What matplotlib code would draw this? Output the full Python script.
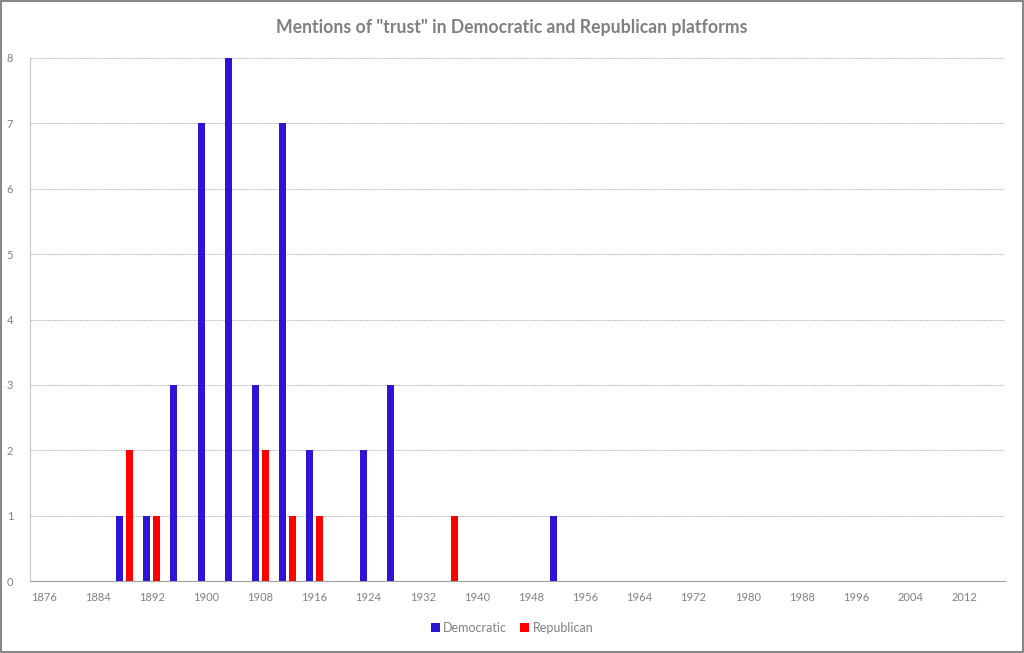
import matplotlib.pyplot as plt
import numpy as np

plt.rcParams['font.family'] = ['Lato', 'DejaVu Sans']

# election years, one category every 4 years
years = list(range(1876, 2017, 4))
dem_years = [1888, 1892, 1896, 1900, 1904, 1908, 1912, 1916, 1924, 1928, 1952]
dem_vals = [1, 1, 3, 7, 8, 3, 7, 2, 2, 3, 1]
rep_years = [1888, 1892, 1908, 1912, 1916, 1936]
rep_vals = [2, 1, 2, 1, 1, 1]

dem = np.zeros(len(years))
rep = np.zeros(len(years))
for y, v in zip(dem_years, dem_vals):
    dem[years.index(y)] = v
for y, v in zip(rep_years, rep_vals):
    rep[years.index(y)] = v

grey = '#808080'
fig = plt.figure(figsize=(10.24, 6.53), dpi=100)
ax = fig.add_axes([30 / 1024, 1 - 581 / 653, 975 / 1024, 523 / 653])

x = np.arange(len(years))
w = 0.26
ax.bar(x - 0.185, dem, w, color='#2E14D4', label='Democratic', zorder=3)
ax.bar(x + 0.185, rep, w, color='#FF0000', label='Republican', zorder=3)

ax.set_xlim(-0.5, len(years) - 0.5)
ax.set_ylim(0, 8)
ax.set_yticks(range(9))
ax.set_xticks(x[::2])
ax.set_xticklabels([str(y) for y in years[::2]])
ax.tick_params(length=0, colors=grey, labelsize=8)
ax.tick_params(axis='y', pad=12)
ax.tick_params(axis='x', pad=8)

ax.grid(axis='y', color='#bfbfbf', linestyle=(0, (2, 1)), linewidth=0.7, zorder=0)
for s in ['top', 'right']:
    ax.spines[s].set_visible(False)
ax.spines['left'].set_color('#c8c8c8')
ax.spines['bottom'].set_color('#a0a0a0')

fig.text(0.5, 1 - 27 / 653, 'Mentions of "trust" in Democratic and Republican platforms',
         ha='center', va='center', fontsize=12.7, fontweight='bold', color=grey)

fig.legend(loc='center', bbox_to_anchor=(0.5, 1 - 628 / 653), ncol=2, frameon=False,
           fontsize=9, labelcolor=grey, handlelength=0.7, handleheight=0.7,
           handletextpad=0.3, columnspacing=1.0)

fig.patches.append(plt.Rectangle((0.001, 0.001), 0.998, 0.997, transform=fig.transFigure,
                                 fill=False, edgecolor='#888888', linewidth=1.5))

fig.savefig('out.png', dpi=100)
